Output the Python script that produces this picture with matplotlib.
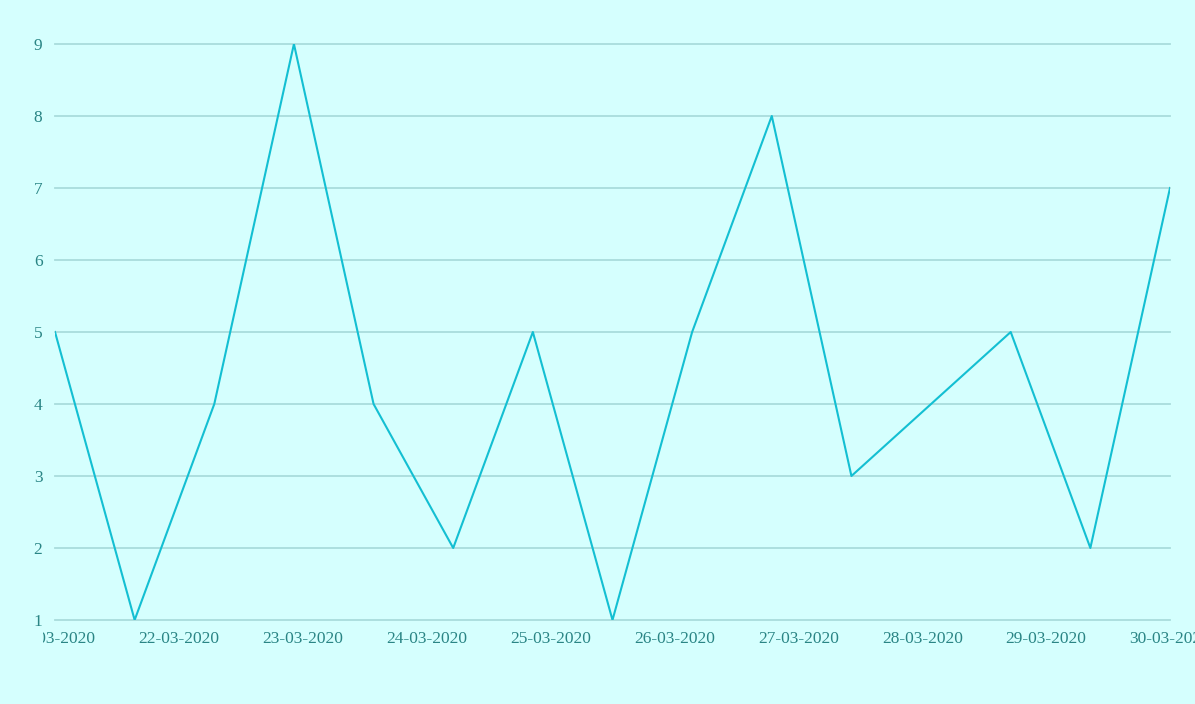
import numpy as np
import pandas as pd
import matplotlib
matplotlib.use("Agg")
import matplotlib.pyplot as plt
import matplotlib.dates as mdates
from matplotlib.transforms import Bbox

# data
start = pd.Timestamp("2020-03-21")
end = pd.Timestamp("2020-03-30")
values = [5, 1, 4, 9, 4, 2, 5, 1, 5, 8, 3, 4, 5, 2, 7]
times = pd.date_range(start, end, periods=len(values))
tick_days = pd.date_range(start, end, freq="D")
y_ticks = [1, 2, 3, 4, 5, 6, 7, 8, 9]

bg = "#d5fffe"
line_col = "#13bfd2"
grid_col = "#a9dcdc"
text_col = "#2a8585"

plt.rcParams['font.family'] = ['Liberation Serif', 'DejaVu Serif']

fig = plt.figure(figsize=(11.95, 7.04), dpi=100, facecolor=bg)
ax = fig.add_axes([55/1195, 1 - 620/704, (1170-55)/1195, (620-44)/704])
ax.set_facecolor(bg)

ax.plot(times, values, color=line_col, lw=1.5)

ax.set_xlim(start, end)
ax.set_ylim(1, 9)
ax.set_yticks(y_ticks)
ax.set_xticks(tick_days)
ax.xaxis.set_major_formatter(mdates.DateFormatter("%d-%m-%Y"))
ax.grid(axis='y', color=grid_col, lw=1.3, clip_on=False)
ax.set_axisbelow(True)
for s in ax.spines.values():
    s.set_visible(False)
ax.tick_params(axis='both', length=0, colors=text_col, labelsize=12.5)
ax.tick_params(axis='y', pad=9)
ax.tick_params(axis='x', pad=8)

fig.canvas.draw()
first = ax.get_xticklabels()[0]
first.set_clip_on(True)
first.set_clip_box(Bbox.from_extents(43, 0, 1195, 704))

fig.savefig("out.png", dpi=100, facecolor=bg)
